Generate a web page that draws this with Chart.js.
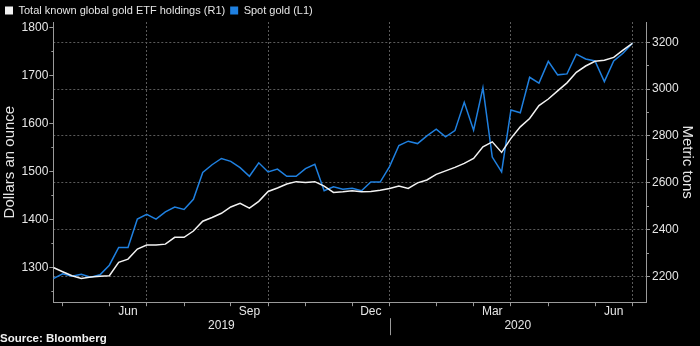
<!DOCTYPE html>
<html>
<head>
<meta charset="utf-8">
<script src="https://cdn.jsdelivr.net/npm/chart.js@4/dist/chart.umd.min.js"></script>
<style>
  html, body { margin: 0; padding: 0; background: #000; }
  canvas { display: block; }
</style>
</head>
<body>
<canvas id="c" width="700" height="346"></canvas>
<script>
// ---- Data (weekly, Fridays from 2019-04-19) ----
const firstWeek = [2019, 3, 19];
const spotGold = [1277,1287,1282,1286,1280,1285,1305,1342,1342,1401,1411,1401,1416,1426,1421,1442,
  1498,1514,1527,1521,1508,1490,1518,1499,1505,1490,1490,1506,1515,1460,1468,1463,1465,1460,1478,1478,
  1510,1554,1563,1558,1574,1588,1572,1585,1644,1586,1674,1530,1499,1628,1622,1696,1684,1729,1701,1703,
  1744,1734,1730,1687,1730,1746,1767];
const etfHoldings = [2238,2220,2203,2191,2198,2201,2203,2260,2274,2317,2334,2334,2338,2367,2367,2394,
  2436,2452,2470,2497,2512,2492,2521,2563,2578,2595,2605,2601,2605,2586,
  2559,2562,2566,2562,2563,2568,2576,2586,2576,2600,2612,2636,2651,2666,2683,2704,
  2754,2775,2730,2790,2839,2875,2930,2958,2993,3027,3072,3099,3119,3124,3136,3167,3196];

const leftTicks = [1300,1400,1500,1600,1700,1800];
const leftTickLabels = ['1300','1400','1500','1600','1700','1800'];
const leftMinorTicks = [1250,1350,1450,1550,1650,1750];
const rightTicks = [2200,2400,2600,2800,3000,3200];
const rightTickLabels = ['2200','2400','2600','2800','3000','3200'];
const rightMinorTicks = [2300,2500,2700,2900,3100];
const monthLabels = ['Jun','Sep','Dec','Mar','Jun'];
const yearLabels = ['2019','2020'];
const seriesNames = ['Total known global gold ETF holdings (R1)', 'Spot gold (L1)'];

// ---- Derived categories ----
const DAY = 864e5;
const weeks = spotGold.map((_, i) => new Date(Date.UTC(firstWeek[0], firstWeek[1], firstWeek[2]) + i * 7 * DAY));
// tick at the last weekly point of each month
const monthTicks = [];
weeks.forEach((d, i) => {
  const nxt = new Date(d.getTime() + 7 * DAY);
  if (nxt.getUTCMonth() !== d.getUTCMonth()) monthTicks.push(i);
});
const quarterMonths = [2, 5, 8, 11];
const quarterTicks = monthTicks.filter(i => quarterMonths.includes(weeks[i].getUTCMonth()));
const monthLabelPos = quarterTicks.map(q => {
  const k = monthTicks.indexOf(q);
  return (monthTicks[k - 1] + q) / 2;
});
const yearBreak = monthTicks.find(i => weeks[i].getUTCMonth() === 11);
const X_MIN = 0, X_MAX = 63.46;
const yearLabelPos = [(X_MIN + yearBreak) / 2, (yearBreak + X_MAX) / 2];

const TXT = '#e6e6e6';
const AXIS = '#9a9a9a';
const GRID = '#5a5a5a';
Chart.defaults.font.family = "'Liberation Sans', Arial, sans-serif";

const sepPlugin = {
  id: 'yearSep',
  afterDraw(chart) {
    const x = chart.scales.x.getPixelForValue(yearBreak);
    const ys = chart.scales.xy;
    const ctx = chart.ctx;
    ctx.save();
    ctx.strokeStyle = AXIS;
    ctx.lineWidth = 1;
    ctx.beginPath();
    ctx.moveTo(Math.round(x) + 0.5, ys.top);
    ctx.lineTo(Math.round(x) + 0.5, ys.bottom + 3);
    ctx.stroke();
    ctx.restore();
  }
};

new Chart(document.getElementById('c'), {
  type: 'line',
  data: {
    datasets: [
      {
        label: seriesNames[0],
        data: etfHoldings.map((v, i) => ({ x: i, y: v })),
        yAxisID: 'yR',
        borderColor: '#f2f2f2',
        backgroundColor: '#f2f2f2',
        borderWidth: 1.5,
        pointRadius: 0,
        tension: 0
      },
      {
        label: seriesNames[1],
        data: spotGold.map((v, i) => ({ x: i, y: v })),
        yAxisID: 'yL',
        borderColor: '#1f80e0',
        backgroundColor: '#1f80e0',
        borderWidth: 1.5,
        pointRadius: 0,
        tension: 0
      }
    ]
  },
  options: {
    responsive: false,
    animation: false,
    devicePixelRatio: 1,
    layout: { padding: 0 },
    plugins: {
      tooltip: { enabled: false },
      legend: {
        position: 'top',
        align: 'start',
        maxHeight: 22,
        labels: {
          color: TXT,
          font: { size: 11 },
          boxWidth: 8,
          boxHeight: 8,
          padding: 5,
          generateLabels: chart => Chart.defaults.plugins.legend.labels.generateLabels(chart)
            .map(l => Object.assign(l, { lineWidth: 0 }))
        }
      },
      subtitle: {
        display: true,
        position: 'bottom',
        align: 'start',
        text: 'Source: Bloomberg',
        color: '#f0f0f0',
        font: { size: 11.5, weight: 'bold' },
        padding: 0
      }
    },
    scales: {
      x: {
        type: 'linear',
        position: 'bottom',
        min: X_MIN, max: X_MAX,
        weight: 0,
        afterBuildTicks: s => { s.ticks = monthTicks.map(v => ({ value: v })); },
        afterFit: s => { s.height = 2; },
        ticks: { display: false, autoSkip: false },
        grid: {
          drawOnChartArea: true,
          drawTicks: true,
          tickLength: 4,
          color: ctx => (ctx.tick && quarterTicks.includes(ctx.tick.value)) ? GRID : 'transparent',
          tickColor: AXIS,
          lineWidth: 1
        },
        border: { display: true, color: AXIS, width: 1, dash: [2, 2] }
      },
      xm: {
        type: 'linear',
        position: 'bottom',
        min: X_MIN, max: X_MAX,
        weight: 1,
        afterBuildTicks: s => { s.ticks = monthLabelPos.map(v => ({ value: v })); },
        afterFit: s => { s.height = 14; },
        ticks: {
          autoSkip: false, maxRotation: 0, minRotation: 0, padding: 0,
          color: TXT, font: { size: 12 },
          callback: (v, i) => monthLabels[i]
        },
        grid: { display: false, drawTicks: false, drawOnChartArea: false },
        border: { display: false }
      },
      xy: {
        type: 'linear',
        position: 'bottom',
        min: X_MIN, max: X_MAX,
        weight: 2,
        afterBuildTicks: s => { s.ticks = yearLabelPos.map(v => ({ value: v })); },
        afterFit: s => { s.height = 14; },
        ticks: {
          autoSkip: false, maxRotation: 0, minRotation: 0, padding: 0,
          color: TXT, font: { size: 12 },
          callback: (v, i) => yearLabels[i]
        },
        grid: { display: false, drawTicks: false, drawOnChartArea: false },
        border: { display: false }
      },
      yL: {
        type: 'linear',
        position: 'left',
        min: 1228, max: 1811,
        afterBuildTicks: s => {
          s.ticks = leftMinorTicks.concat(leftTicks).sort((a, b) => a - b).map(v => ({ value: v }));
        },
        afterFit: s => { s.width = 53.3; },
        ticks: {
          autoSkip: false, padding: 1, color: TXT, font: { size: 12 },
          callback: v => { const k = leftTicks.indexOf(v); return k >= 0 ? leftTickLabels[k] : ''; }
        },
        grid: {
          drawOnChartArea: false,
          drawTicks: true,
          tickLength: 4,
          tickColor: AXIS,
          tickBorderDash: ctx => (ctx.tick && leftMinorTicks.includes(ctx.tick.value)) ? [0, 2, 2, 20] : []
        },
        border: { display: true, color: AXIS, width: 1 },
        title: {
          display: true, text: 'Dollars an ounce', color: TXT,
          font: { size: 15 }, padding: { top: 0.5, bottom: 0 }
        }
      },
      yR: {
        type: 'linear',
        position: 'right',
        min: 2090, max: 3287,
        afterBuildTicks: s => {
          s.ticks = rightMinorTicks.concat(rightTicks).sort((a, b) => a - b).map(v => ({ value: v }));
        },
        afterFit: s => { s.width = 54; },
        ticks: {
          autoSkip: false, padding: 2, color: TXT, font: { size: 12 },
          callback: v => { const k = rightTicks.indexOf(v); return k >= 0 ? rightTickLabels[k] : ''; }
        },
        grid: {
          drawOnChartArea: true,
          drawTicks: true,
          tickLength: 4,
          color: ctx => (ctx.tick && rightTicks.includes(ctx.tick.value)) ? GRID : 'transparent',
          tickColor: AXIS,
          tickBorderDash: ctx => (ctx.tick && rightMinorTicks.includes(ctx.tick.value)) ? [2, 20] : []
        },
        border: { display: true, color: AXIS, width: 1, dash: [2, 2] },
        title: {
          display: true, text: 'Metric tons', color: TXT,
          font: { size: 15 }, padding: { top: 4, bottom: 0 }
        }
      }
    }
  },
  plugins: [sepPlugin]
});
</script>
</body>
</html>
